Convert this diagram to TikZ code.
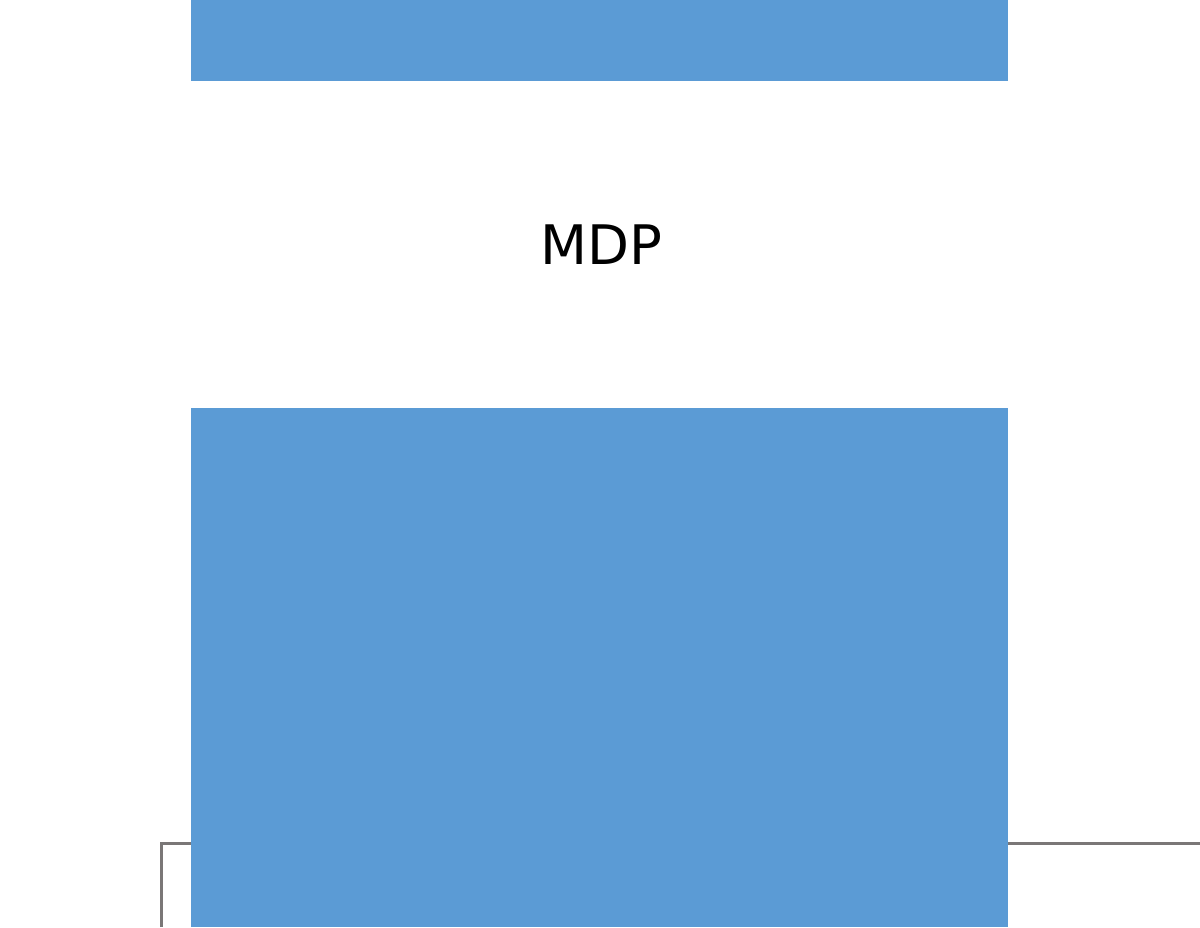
\documentclass[tikz,border=0pt]{standalone}
\usepackage{fontspec}
\setmainfont{DejaVu Sans}
\definecolor{boxblue}{HTML}{5B9BD5}
\definecolor{linegray}{HTML}{7A7777}
\begin{document}
\begin{tikzpicture}[x=1pt,y=-1pt,
  bluebox/.style={fill=boxblue,draw=none,inner sep=0pt,outer sep=0pt},
  grayline/.style={draw=linegray,line width=3pt}]
\useasboundingbox (0,0) rectangle (1200,927);
\coordinate (lineL) at (161,927);
\coordinate (lineC) at (161,843.5);
\coordinate (lineR) at (1200,843.5);
\draw[grayline] (lineL) -- (lineC) -- (lineR);
\node[bluebox,minimum width=817pt,minimum height=81pt,anchor=north west] (topbox) at (191,0) {};
\node[bluebox,minimum width=817pt,minimum height=519pt,anchor=north west] (bottombox) at (191,408) {};
\node[font=\fontsize{54.5}{60}\selectfont,inner sep=0pt] (label) at (601,245) {MDP};
\end{tikzpicture}
\end{document}
